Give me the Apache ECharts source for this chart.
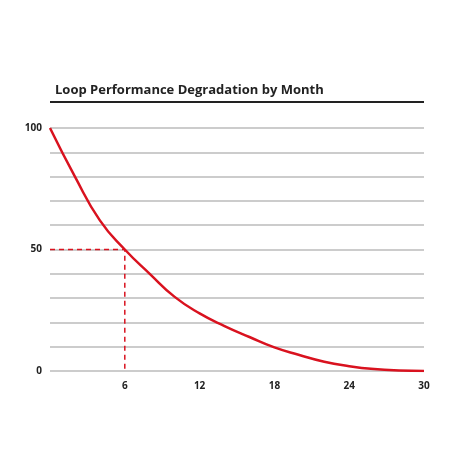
<!DOCTYPE html>
<html><head><meta charset="utf-8">
<script src="https://cdn.jsdelivr.net/npm/echarts@6/dist/echarts.min.js"></script>
<style>html,body{margin:0;background:#fff}#main{width:474px;height:474px}</style>
</head><body><div id="main"></div>
<script>
const months = [0, 2, 4, 6, 8, 10, 12, 14, 16, 18, 20, 22, 24, 26, 28, 30];
const performance = [100, 80, 62, 50, 40, 30.5, 23.7, 18.5, 14, 9.7, 6.6, 3.8, 2, 0.8, 0.2, 0];
const markerPath = [[0, 50], [6, 50], [6, 0]];
const yLabels = [0, 50, 100];

const chart = echarts.init(document.getElementById("main"));
const red = "#d9121f";

chart.setOption({
  animation: false,
  title: {
    text: "Loop Performance Degradation by Month",
    left: 50, top: 79,
    textStyle: { fontFamily: "Open Sans", fontSize: 13, fontWeight: "bold", color: "#222" }
  },
  graphic: [{
    type: "line", shape: { x1: 50, y1: 102, x2: 424, y2: 102 },
    style: { stroke: "#222", lineWidth: 2 }
  }],
  grid: { left: 50, right: 50, top: 128, bottom: 103 },
  xAxis: {
    type: "value", min: 0, max: 30, interval: 6,
    axisLine: { show: false }, axisTick: { show: false }, splitLine: { show: false },
    axisLabel: {
      margin: 10, color: "#222", fontFamily: "Open Sans", fontSize: 10, fontWeight: "bold",
      formatter: v => (v === 0 ? "" : v)
    }
  },
  yAxis: {
    type: "value", min: 0, max: 100, interval: 10,
    axisLine: { show: false }, axisTick: { show: false },
    splitLine: { lineStyle: { color: "#bbb", width: 1.5 } },
    axisLabel: {
      margin: 8, color: "#222", fontFamily: "Open Sans", fontSize: 10, fontWeight: "bold",
      formatter: v => (yLabels.includes(v) ? v : "")
    }
  },
  series: [
    {
      type: "line", data: markerPath, symbol: "none", z: 2,
      lineStyle: { color: red, width: 1.5, type: [5, 4] }
    },
    {
      type: "line", smooth: 0.5, symbol: "none", z: 3,
      data: months.map((m, i) => [m, performance[i]]),
      lineStyle: { color: red, width: 2.5 }
    }
  ]
});
</script></body></html>
